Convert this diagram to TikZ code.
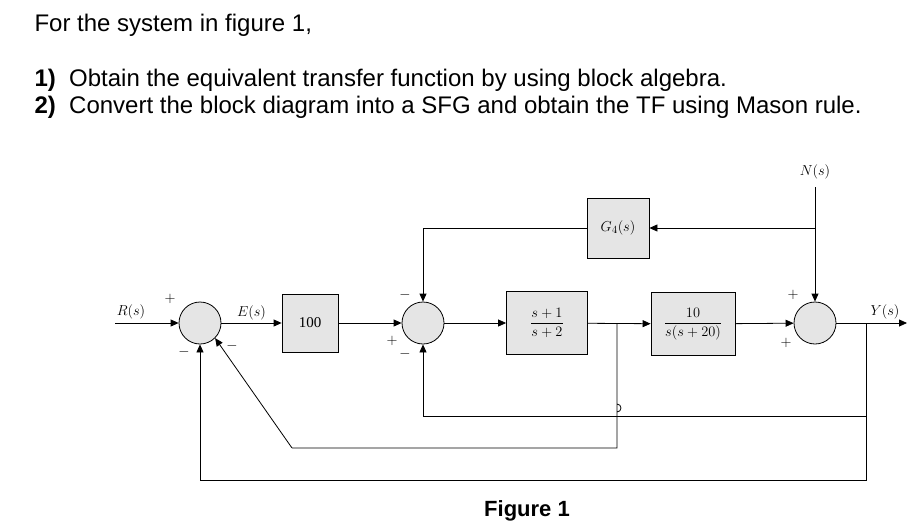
\documentclass[tikz,border=0pt]{standalone}
\usepackage{fontspec}
\setmainfont{Liberation Serif}
\newfontfamily\arial{Liberation Sans}
\usetikzlibrary{arrows.meta}
\begin{document}
\begin{tikzpicture}[x=1pt,y=-1pt,
  blk/.style={draw,thick,fill=gray!20,inner sep=0,minimum width=#1,font=\fontsize{15}{17}\selectfont},
  sum/.style={circle,draw,thick,fill=gray!20,minimum size=42pt,inner sep=0},
  sig/.style={font=\fontsize{14}{16}\selectfont,inner sep=1pt},
  lab/.style={font=\fontsize{15}{17}\selectfont,inner sep=1pt},
  ar/.style={-{Triangle[length=8pt,width=7pt]},thick},
  ln/.style={thick}]
\useasboundingbox (0,0) rectangle (907,522);
\node[anchor=west,font=\arial\fontsize{24}{28}\selectfont] (t0) at (31,25) {For the system in figure 1,};
\node[anchor=west,font=\arial\fontsize{24}{28}\selectfont] (t1) at (31,80) {\textbf{1)}\ \ Obtain the equivalent transfer function by using block algebra.};
\node[anchor=west,font=\arial\fontsize{24}{28}\selectfont] (t2) at (31,107) {\textbf{2)}\ \ Convert the block diagram into a SFG and obtain the TF using Mason rule.};
\node[font=\arial\bfseries\fontsize{22}{26}\selectfont] (cap) at (527,511) {Figure 1};

\node[sum] (s1) at (200,323) {};
\node[sum] (s2) at (423,323) {};
\node[sum] (s3) at (815,323) {};
\node[blk=56pt,minimum height=58pt] (b1) at (310,323) {100};
\node[blk=81pt,minimum height=63pt] (b2) at (547,323) {$\displaystyle\frac{s+1}{s+2}$};
\node[blk=84pt,minimum height=63pt] (b3) at (693,324) {$\displaystyle\frac{10}{s(s+20)}$};
\node[blk=62pt,minimum height=60pt] (g4) at (618,228) {$G_4(s)$};

\coordinate (rin) at (115,323);
\coordinate (yout) at (907,323);
\coordinate (ntop) at (815,187);
\coordinate (nbr) at (815,228);
\coordinate (g4l) at (423,228);
\coordinate (ybr) at (866,323);
\coordinate (y416) at (866,416);
\coordinate (y480) at (866,480);
\coordinate (l480) at (200,480);
\coordinate (c416) at (423,416);
\coordinate (b2br) at (617,323);
\coordinate (b2dn) at (617,448);
\coordinate (d448) at (292,448);

\draw[ar] (rin) -- (s1);
\draw[ar] (s1) -- node[lab,above=2pt]{$E(s)$} (b1);
\draw[ar] (b1) -- (s2);
\draw[ar] (s2) -- (b2);
\draw[ar] (b2) -- (b3);
\draw[ar] (b3) -- (s3);
\draw[ar] (s3) -- (yout);
\draw[ln] (ntop) -- (nbr);
\draw[ar] (nbr) -- (s3);
\draw[ar] (nbr) -- (g4);
\draw[ln] (g4) -- (g4l);
\draw[ar] (g4l) -- (s2);
\draw[ln] (ybr) -- (y480) -- (l480);
\draw[ar] (l480) -- (s1);
\draw[ln] (y416) -- (c416);
\draw[ar] (c416) -- (s2);
\draw[ln] (b2br) -- (617,412) arc[start angle=90,end angle=-90,radius=4] -- (b2dn) -- (d448);
\draw[ar] (d448) -- (s1.-45);

\node[lab] (lr) at (131,312) {$R(s)$};
\node[lab] (ly) at (885,312) {$Y(s)$};
\node[lab] (ln) at (815,172) {$N(s)$};
\node[sig] at (170,299) {$+$};
\node[sig] at (184,352) {$-$};
\node[sig] at (232,346) {$-$};
\node[sig] at (405,295) {$-$};
\node[sig] at (392,341) {$+$};
\node[sig] at (405,354) {$-$};
\node[sig] at (793,295) {$+$};
\node[sig] at (786,343) {$+$};
\end{tikzpicture}
\end{document}
